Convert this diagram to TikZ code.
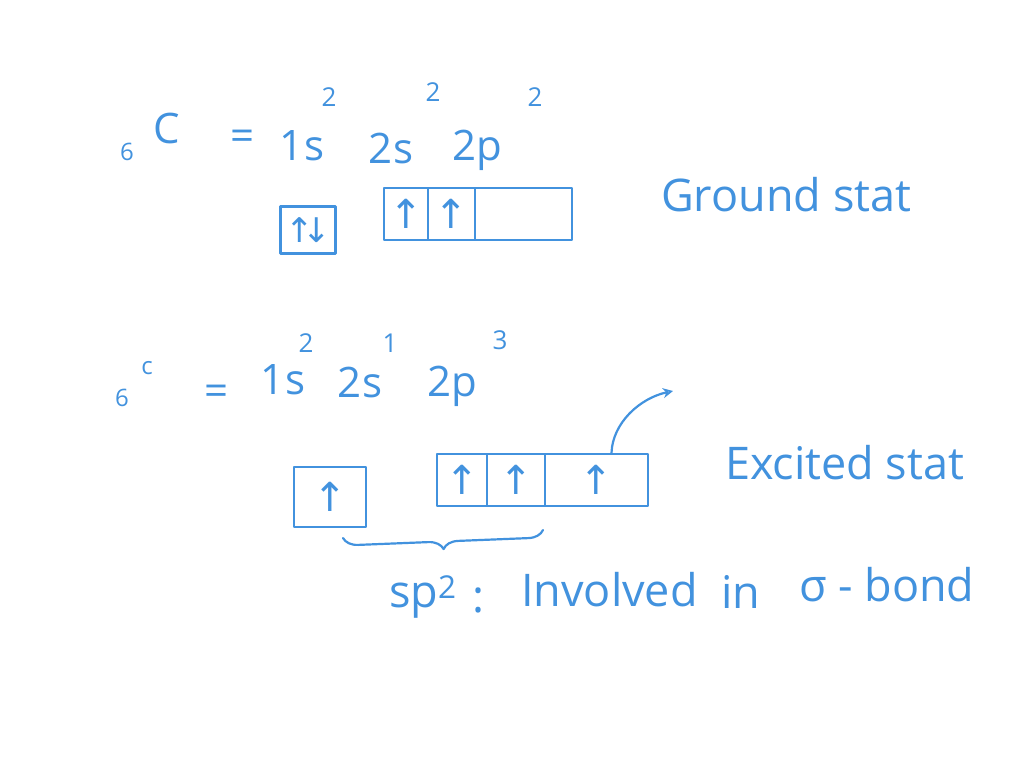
\documentclass[tikz,border=0pt]{standalone}
\usepackage{fontspec}
\setmainfont{Open Sans}
\newfontfamily\symf{DejaVu Sans}
\usetikzlibrary{decorations.pathreplacing,arrows.meta,calc}
\definecolor{ink}{RGB}{66,146,222}
\begin{document}
\begin{tikzpicture}[x=1pt,y=-1pt,line width=2.2pt,line cap=round,line join=round,
  hw/.style={text=ink,inner sep=0pt,font=\fontsize{42}{44}\selectfont},
  lab/.style={text=ink,inner sep=0pt,font=\fontsize{45}{48}\selectfont},
  sup/.style={text=ink,inner sep=0pt,font=\fontsize{26}{28}\selectfont},
  sub/.style={text=ink,inner sep=0pt,font=\fontsize{24}{26}\selectfont},
  cell/.style={draw=ink,text=ink,inner sep=0pt,minimum height=52pt,font=\symf\fontsize{40}{42}\selectfont}]
\fill[white] (0,0) rectangle (1024,768);
\useasboundingbox (0,0) rectangle (1024,768);
% ---- ground state configuration
\node[sub] (n1) at (127,152) {6};
\node[hw] (C1) at (167,128) {C};
\node[hw] (eq1) at (243,140) {=};
\node[hw] (o1a) at (302,146) {1s};
\node[sup] (e1a) at (329,97) {2};
\node[hw] (o1b) at (391,148) {2s};
\node[sup] (e1b) at (433,92) {2};
\node[hw] (o1c) at (477,150) {2p};
\node[sup] (e1c) at (535,97) {2};
% ---- ground state boxes
\node[cell,minimum width=55pt,minimum height=47pt,font=\symf\fontsize{34}{36}\selectfont] (g1s) at (308,230) {↑\kern-12pt↓};
\node[cell,minimum width=44pt] (g2s) at (406,214) {↑};
\node[cell,minimum width=47pt] (g2p1) at (451.5,214) {↑};
\node[cell,minimum width=97pt] (g2p2) at (523.5,214) {};
\node[lab,anchor=west] (gs) at (660,195) {Ground stat};
% ---- excited state configuration
\node[sub] (n2) at (122,398) {6};
\node[sub] (C2) at (147,368) {c};
\node[hw] (eq2) at (217,395) {=};
\node[hw] (o2a) at (283,380) {1s};
\node[sup] (e2a) at (306,343) {2};
\node[hw] (o2b) at (360,382) {2s};
\node[sup] (e2b) at (390,343) {1};
\node[hw] (o2c) at (452,386) {2p};
\node[sup] (e2c) at (500,340) {3};
% ---- excited state boxes
\node[cell,minimum width=72pt,minimum height=60pt] (x1s) at (330,497) {↑};
\node[cell,minimum width=50pt] (x2s) at (462,480) {↑};
\node[cell,minimum width=58pt] (x2p1) at (516,480) {↑};
\node[cell,minimum width=103pt] (x2p2) at (596.5,480) {↑};
\coordinate (arrEnd) at (673,391);
\draw[draw=ink,-{Stealth[length=10pt,width=10pt,open]}] ($(x2p2.north)+(15,0)$) .. controls ($(x2p2.north)+(16,-30)$) and (640,398) .. (arrEnd);
\node[lab,anchor=west] (es) at (724,463) {Excited stat};
% ---- brace and label
\coordinate (brL) at (343,538);
\coordinate (brR) at (543,530);
\draw[draw=ink,decorate,decoration={brace,mirror,amplitude=15pt,aspect=0.5}] (brL) -- (brR);
\node[lab,anchor=west] (sp) at (388,597) {sp\textsuperscript{2}};
\node[lab] (col) at (478,600) {:};
\node[lab,anchor=west] (inv) at (520,590) {Involved};
\node[lab,anchor=west] (inn) at (720,592) {in};
\node[lab,anchor=west] (bond) at (798,585) {σ - bond};
\end{tikzpicture}
\end{document}
